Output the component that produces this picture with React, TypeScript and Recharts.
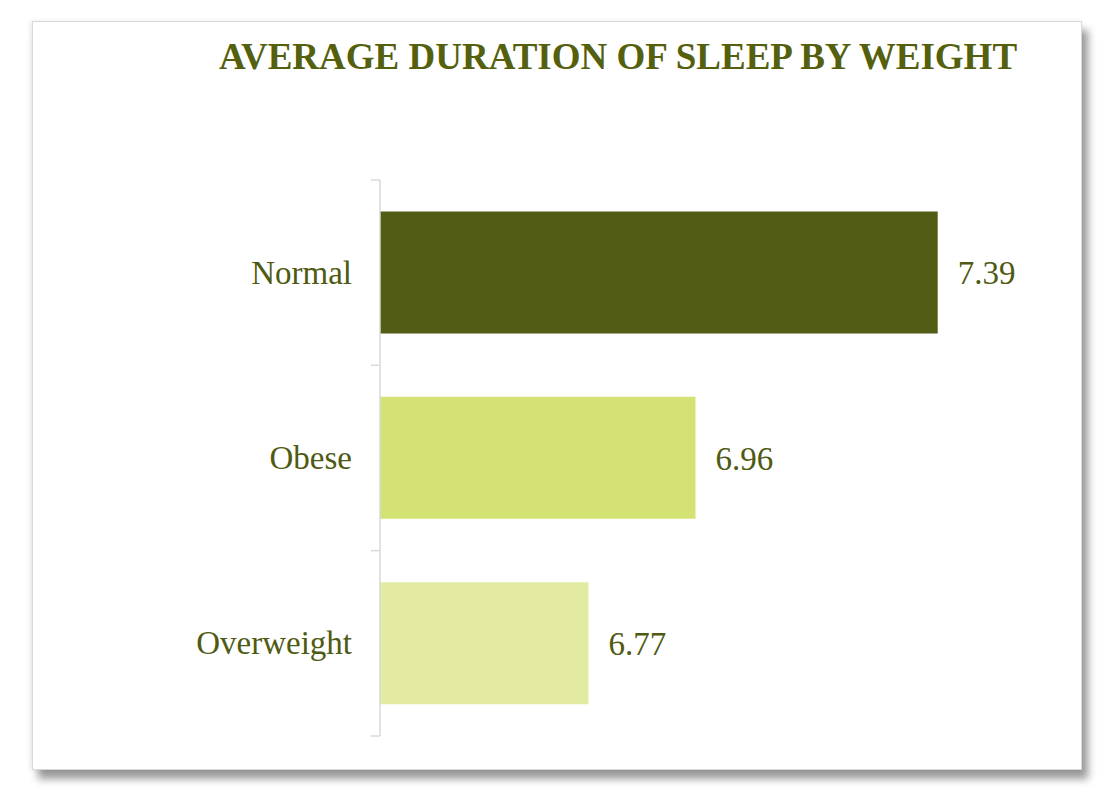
import { BarChart, Bar, XAxis, YAxis, Cell, LabelList } from 'recharts';

const categories = ['Normal', 'Obese', 'Overweight'];
const sleepHours = [7.39, 6.96, 6.77];
const barColors = ['#535c14', '#d4e173', '#e2eba1'];
const xDomain = [6.4, 7.6];

const TEXT = '#4f5a12';
const FONT = '"Liberation Serif", "Times New Roman", serif';

const CHART_W = 1048;
const CHART_H = 747;
const MARGIN = { top: 158, right: 25, bottom: 33, left: 0 };
const BAND = (CHART_H - MARGIN.top - MARGIN.bottom) / categories.length;

const data = categories.map((name, i) => ({ name, value: sleepHours[i] }));

// Excel-style ticks: marks sit on the band edges, label in the middle
const CategoryTick = ({ x, y, payload, index }: any) => {
  const half = BAND / 2;
  return (
    <g>
      <line x1={x - 9} x2={x} y1={y - half} y2={y - half} stroke="#d9d9d9" strokeWidth={1.5} />
      {index === categories.length - 1 && (
        <line x1={x - 9} x2={x} y1={y + half} y2={y + half} stroke="#d9d9d9" strokeWidth={1.5} />
      )}
      <text
        x={x - 28}
        y={y}
        textAnchor="end"
        dominantBaseline="central"
        fill={TEXT}
        fontFamily={FONT}
        fontSize={33}
      >
        {payload.value}
      </text>
    </g>
  );
};

const App = () => {
  return (
    <div style={{ paddingTop: 13, paddingLeft: 24, paddingBottom: 20 }}>
      <div
        style={{
          position: 'relative',
          width: CHART_W,
          height: CHART_H,
          border: '1px solid #d9d9d9',
          background: '#fff',
          boxShadow: '6px 9px 8px rgba(0,0,0,0.4), -2px 0 5px rgba(0,0,0,0.08)',
        }}
      >
        <div
          style={{
            position: 'absolute',
            left: 186,
            top: 16,
            fontFamily: FONT,
            fontWeight: 'bold',
            fontSize: 37,
            lineHeight: '37px',
            color: '#55600f',
            whiteSpace: 'nowrap',
          }}
        >
          AVERAGE DURATION OF SLEEP BY WEIGHT
        </div>
        <BarChart
          width={CHART_W}
          height={CHART_H}
          data={data}
          layout="vertical"
          margin={MARGIN}
          barCategoryGap="17%"
        >
          <XAxis type="number" domain={xDomain} hide allowDataOverflow />
          <YAxis
            type="category"
            dataKey="name"
            width={347}
            axisLine={{ stroke: '#d9d9d9', strokeWidth: 1.5 }}
            tickLine={false}
            tickSize={0}
            tickMargin={0}
            tick={<CategoryTick />}
            interval={0}
          />
          <Bar dataKey="value" isAnimationActive={false}>
            {data.map((d, i) => (
              <Cell key={d.name} fill={barColors[i]} />
            ))}
            <LabelList
              dataKey="value"
              position="right"
              offset={20}
              fill={TEXT}
              fontFamily={FONT}
              fontSize={33}
              formatter={(v: any) => Number(v).toFixed(2)}
            />
          </Bar>
        </BarChart>
      </div>
    </div>
  );
};

export default App;
